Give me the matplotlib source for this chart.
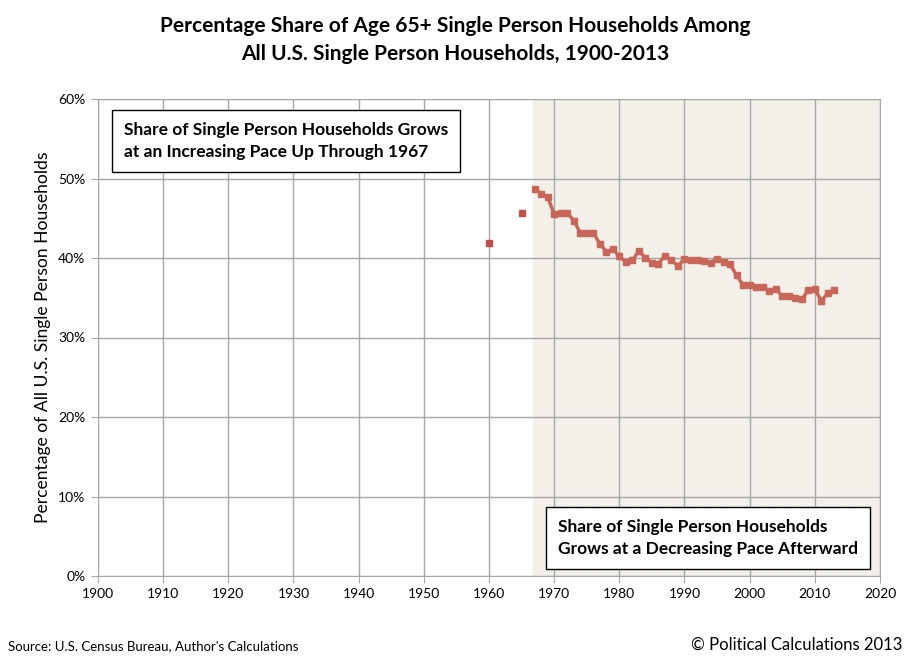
import matplotlib
matplotlib.use("Agg")
import matplotlib.pyplot as plt
from matplotlib.ticker import FuncFormatter

plt.rcParams['font.family'] = ['Lato', 'DejaVu Sans']

early_years = [1960, 1965]
early_share = [41.9, 45.7]

years = list(range(1967, 2014))
share = [48.7, 48.1, 47.7, 45.5, 45.7, 45.7, 44.7, 43.2, 43.2, 43.2,
         41.8, 40.8, 41.1, 40.2, 39.5, 39.7, 40.9, 40.0, 39.4, 39.3,
         40.3, 39.7, 39.0, 39.9, 39.7, 39.8, 39.6, 39.4, 39.9, 39.5,
         39.2, 37.8, 36.6, 36.6, 36.4, 36.4, 35.9, 36.1, 35.2, 35.2,
         35.0, 34.8, 36.0, 36.1, 34.6, 35.6, 36.0]

x_ticks = list(range(1900, 2021, 10))
y_ticks = list(range(0, 61, 10))

fig = plt.figure(figsize=(9.11, 6.62), dpi=100)
ax = fig.add_axes([98/911, 1-576/662, (880-98)/911, (576-99)/662])

grid_c = '#A6A6A6'
ax.axvspan(1966.7, 2020, color='#F2F0E8', zorder=0)
for xt in x_ticks:
    ax.axvline(xt, color=grid_c, lw=1, zorder=1)
for yt in y_ticks:
    ax.axhline(yt, color=grid_c, lw=1, zorder=1)

ax.plot(years, share, color='#C9665A', lw=2.5, marker='s', ms=4.8, zorder=3)
ax.plot(early_years, early_share, ls='none', color='#C0504D', marker='s', ms=4.8, zorder=3)

ax.set_xlim(1900, 2020)
ax.set_ylim(0, 60)
ax.set_xticks(x_ticks)
ax.set_yticks(y_ticks)
ax.yaxis.set_major_formatter(FuncFormatter(lambda v, p: f"{int(v)}%"))
ax.tick_params(axis='both', labelsize=10, color=grid_c, length=5, direction='out', pad=4)
for s in ax.spines.values():
    s.set_color(grid_c)

ax.set_ylabel("Percentage of All U.S. Single Person Households", fontsize=12.6, labelpad=5)

ax.text(1904.0, 57.1, "Share of Single Person Households Grows\nat an Increasing Pace Up Through 1967",
        fontsize=12.5, fontweight='bold', va='top', ha='left', linespacing=1.45, zorder=5,
        bbox=dict(boxstyle='square,pad=0.7', fc='white', ec='black', lw=1))
ax.text(1970.6, 7.2, "Share of Single Person Households\nGrows at a Decreasing Pace Afterward",
        fontsize=12.5, fontweight='bold', va='top', ha='left', linespacing=1.45, zorder=5,
        bbox=dict(boxstyle='square,pad=0.7', fc='white', ec='black', lw=1))

fig.text(455/911, 1-40/662, "Percentage Share of Age 65+ Single Person Households Among\nAll U.S. Single Person Households, 1900-2013",
         ha='center', va='center', fontsize=15, fontweight='bold', linespacing=1.5)
fig.text(8/911, 1-646/662, "Source: U.S. Census Bureau, Author's Calculations", fontsize=9.5, va='center', ha='left')
fig.text(902/911, 1-645/662, "© Political Calculations 2013", fontsize=12, va='center', ha='right')

fig.savefig("out.png", dpi=100)
